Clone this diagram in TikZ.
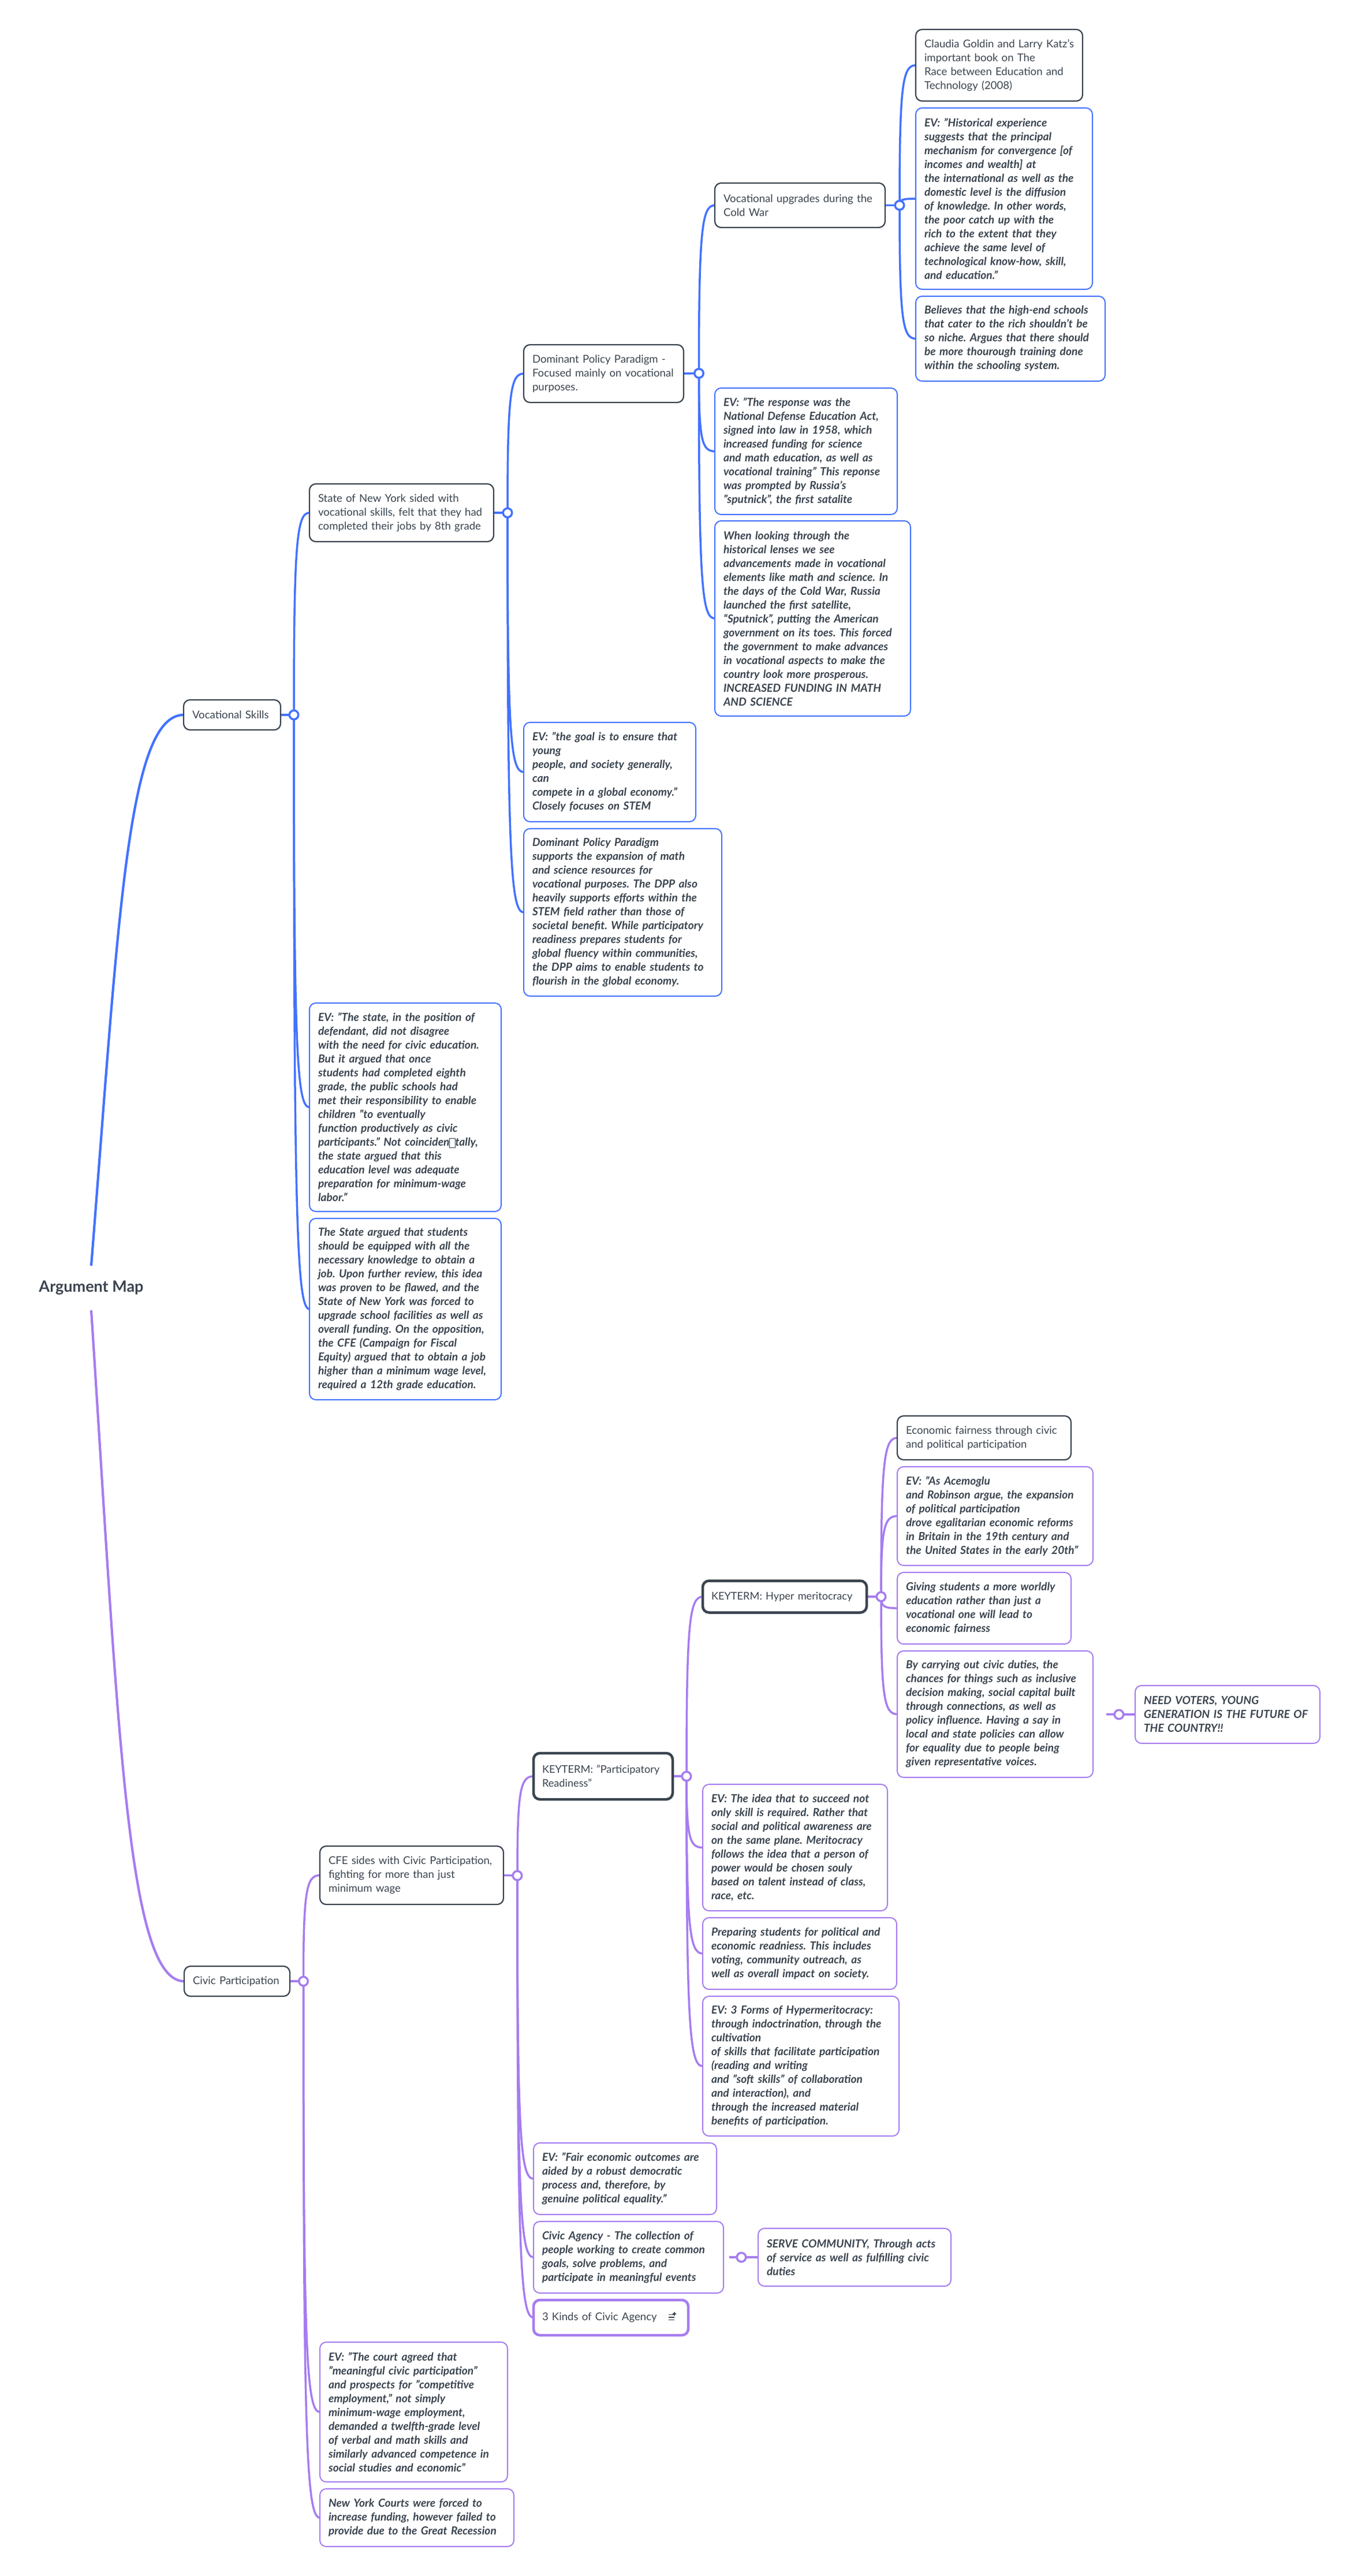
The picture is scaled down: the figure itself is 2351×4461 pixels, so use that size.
\documentclass[tikz,border=0pt]{standalone}
\usepackage{fontspec}
\setmainfont{Lato}
\usetikzlibrary{calc,backgrounds}

\definecolor{inkcol}{HTML}{3A444F}
\definecolor{bluecol}{HTML}{4372FF}
\definecolor{purplecol}{HTML}{A67CF0}
\newcommand{\tofuglyph}{{\setlength{\fboxsep}{0pt}\setlength{\fboxrule}{0.6pt}\raisebox{-2pt}{\fbox{\rule{0pt}{15pt}\rule{9pt}{0pt}}}}}

\tikzset{
	basebox/.style={anchor=north west,rectangle,rounded corners=11pt,fill=white,outer sep=0pt,inner xsep=15pt,inner ysep=0pt,align=left,text=inkcol,font=\fontsize{18.6pt}{24pt}\selectfont\frenchspacing},
	plainbox/.style={basebox,draw=inkcol,line width=2.2pt},
	keybox/.style={basebox,draw=inkcol,line width=4.5pt,font=\fontsize{18.2pt}{24pt}\selectfont\frenchspacing},
	bluenote/.style={basebox,draw=bluecol,line width=2pt,font=\fontsize{19.2pt}{24pt}\selectfont\bfseries\itshape\frenchspacing},
	purplenote/.style={basebox,draw=purplecol,line width=2pt,font=\fontsize{19.2pt}{24pt}\selectfont\bfseries\itshape\frenchspacing},
	hubdot/.style={circle,draw,fill=white,outer sep=0pt,line width=3.5pt,minimum size=15.5pt,inner sep=0pt},
	bluelink/.style={draw=bluecol,line width=3.5pt},
	purplelink/.style={draw=purplecol,line width=3.5pt},
	branch/.style={to path={let \p1=(\tikztostart),\p2=(\tikztotarget) in .. controls (\x1,{\y1+0.85*(\y2-\y1)}) and (\x1+5pt,\y2) .. (\tikztotarget)}}
}

\begin{document}
\begin{tikzpicture}[x=1pt,y=-1pt]
	\useasboundingbox (0,0) rectangle (2351,4461);

	\node[anchor=center,text=inkcol,font=\fontsize{27pt}{30pt}\selectfont\bfseries,minimum height=77pt] (rootMap) at (158,2230.5) {Argument Map};

	% Vocational side
	\node[plainbox,text width=138pt,minimum height=52pt] (vocSkills) at (318,1212) {Vocational Skills};
	\node[hubdot,draw=bluecol] (hubVoc) at (509,1238) {};
	\node[plainbox,text width=289pt,minimum height=100pt] (stateNY) at (536,838) {State of New York sided with\\vocational skills, felt that they had\\completed their jobs by 8th grade};
	\node[hubdot,draw=bluecol] (hubState) at (879,888) {};
	\node[plainbox,text width=247pt,minimum height=100pt] (dominant) at (907,597) {Dominant Policy Paradigm -\\Focused mainly on vocational\\purposes.};
	\node[hubdot,draw=bluecol] (hubDominant) at (1210.5,646.5) {};
	\node[plainbox,text width=265pt,minimum height=77pt] (coldWar) at (1238,317) {Vocational upgrades during the\\Cold War};
	\node[hubdot,draw=bluecol] (hubCold) at (1558,355.5) {};
	\node[plainbox,text width=259pt,minimum height=124pt] (goldin) at (1586,51) {\mbox{Claudia Goldin and Larry Katz’s}\\important book on The\\Race between Education and\\Technology (2008)};
	\node[bluenote,text width=276pt,minimum height=314pt] (histEV) at (1586,187) {EV: "Historical experience\\suggests that the principal\\mechanism for convergence [of\\incomes and wealth] at\\the international as well as the\\domestic level is the diffusion\\of knowledge. In other words,\\the poor catch up with the\\rich to the extent that they\\achieve the same level of\\technological know-how, skill,\\and education."};
	\node[bluenote,text width=298pt,minimum height=147pt] (highEnd) at (1586,513) {Believes that the high-end schools\\that cater to the rich shouldn't be\\so niche. Argues that there should\\be more thourough training done\\within the schooling system.};
	\node[bluenote,text width=286pt,minimum height=219pt] (responseEV) at (1238,672) {EV: "The response was the\\National Defense Education Act,\\signed into law in 1958, which\\increased funding for science\\and math education, as well as\\vocational training" This reponse\\was prompted by Russia's\\"sputnick", the first satalite};
	\node[bluenote,text width=309pt,minimum height=338pt] (lenses) at (1238,902) {When looking through the\\historical lenses we see\\advancements made in vocational\\elements like math and science. In\\the days of the Cold War, Russia\\launched the first satellite,\\“Sputnick”, putting the American\\government on its toes. This forced\\the government to make advances\\in vocational aspects to make the\\country look more prosperous.\\INCREASED FUNDING IN MATH\\AND SCIENCE};
	\node[bluenote,text width=268pt,minimum height=172pt] (goalEV) at (907,1251) {EV: "the goal is to ensure that\\young\\people, and society generally,\\can\\compete in a global economy."\\Closely focuses on STEM};
	\node[bluenote,text width=313pt,minimum height=290pt] (dppNote) at (907,1435) {Dominant Policy Paradigm\\supports the expansion of math\\and science resources for\\vocational purposes. The DPP also\\heavily supports efforts within the\\STEM field rather than those of\\societal benefit. While participatory\\readiness prepares students for\\global fluency within communities,\\the DPP aims to enable students to\\flourish in the global economy.};
	\node[bluenote,text width=302pt,minimum height=361pt] (stateEV) at (536,1737) {EV: "The state, in the position of\\defendant, did not disagree\\with the need for civic education.\\But it argued that once\\students had completed eighth\\grade, the public schools had\\met their responsibility to enable\\children "to eventually\\function productively as civic\\participants.” Not coinciden\tofuglyph{}tally,\\the state argued that this\\education level was adequate\\preparation for minimum-wage\\labor."};
	\node[bluenote,text width=302pt,minimum height=314pt] (stateArg) at (536,2110) {The State argued that students\\should be equipped with all the\\necessary knowledge to obtain a\\job. Upon further review, this idea\\was proven to be flawed, and the\\State of New York was forced to\\upgrade school facilities as well as\\overall funding. On the opposition,\\the CFE (Campaign for Fiscal\\Equity) argued that to obtain a job\\higher than a minimum wage level,\\required a 12th grade education.};

	% Civic side
	\node[plainbox,text width=153pt,minimum height=52pt] (civicPart) at (319,3405) {Civic Participation};
	\node[hubdot,draw=purplecol] (hubCivic) at (525.5,3431) {};
	\node[plainbox,text width=288pt,minimum height=101pt] (cfeSides) at (554,3197) {CFE sides with Civic Participation,\\fighting for more than just\\minimum wage};
	\node[hubdot,draw=purplecol] (hubCfe) at (896,3248) {};
	\node[keybox,text width=211pt,minimum height=80pt] (keyReady) at (924,3036) {KEYTERM: "Participatory\\Readiness"};
	\node[hubdot,draw=purplecol] (hubReady) at (1189,3076) {};
	\node[keybox,text width=254pt,minimum height=55pt] (keyHyper) at (1217,2737.5) {KEYTERM: Hyper meritocracy};
	\node[hubdot,draw=purplecol] (hubHyper) at (1526,2765) {};
	\node[plainbox,text width=271pt,minimum height=76pt] (fairness) at (1554,2452) {Economic fairness through civic\\and political participation};
	\node[purplenote,text width=309pt,minimum height=171pt] (acemogluEV) at (1554,2540) {EV: "As Acemoglu\\and Robinson argue, the expansion\\of political participation\\drove egalitarian economic reforms\\in Britain in the 19th century and\\the United States in the early 20th"};
	\node[purplenote,text width=271pt,minimum height=124pt] (worldly) at (1554,2723) {Giving students a more worldly\\education rather than just a\\vocational one will lead to\\economic fairness};
	\node[purplenote,text width=309pt,minimum height=219pt] (duties) at (1554,2859) {By carrying out civic duties, the\\chances for things such as inclusive\\decision making, social capital built\\through connections, as well as\\policy influence. Having a say in\\local and state policies can allow\\for equality due to people being\\given representative voices.};
	\node[hubdot,draw=purplecol] (hubVoters) at (1938,2969) {};
	\node[purplenote,text width=290pt,minimum height=100pt] (voters) at (1966,2919) {NEED VOTERS, YOUNG\\GENERATION IS THE FUTURE OF\\THE COUNTRY!!};
	\node[purplenote,text width=290pt,minimum height=219pt] (ideaEV) at (1217,3090) {EV: The idea that to succeed not\\only skill is required. Rather that\\social and political awareness are\\on the same plane. Meritocracy\\follows the idea that a person of\\power would be chosen souly\\based on talent instead of class,\\race, etc.};
	\node[purplenote,text width=306pt,minimum height=124pt] (preparing) at (1217,3321) {Preparing students for political and\\economic readniess. This includes\\voting, community outreach, as\\well as overall impact on society.};
	\node[purplenote,text width=310pt,minimum height=242pt] (formsEV) at (1217,3457) {EV: 3 Forms of Hypermeritocracy:\\through indoctrination, through the\\cultivation\\of skills that facilitate participation\\(reading and writing\\and "soft skills" of collaboration\\and interaction), and\\through the increased material\\benefits of participation.};
	\node[purplenote,text width=287pt,minimum height=124pt] (fairEV) at (924,3711) {EV: "Fair economic outcomes are\\aided by a robust democratic\\process and, therefore, by\\genuine political equality."};
	\node[purplenote,text width=299pt,minimum height=124pt] (agency) at (924,3847) {Civic Agency - The collection of\\people working to create common\\goals, solve problems, and\\participate in meaningful events};
	\node[hubdot,draw=purplecol] (hubAgency) at (1284,3909) {};
	\node[purplenote,text width=304pt,minimum height=100pt] (serve) at (1313,3859) {SERVE COMMUNITY, Through acts\\of service as well as fulfilling civic\\duties};
	\node[basebox,draw=purplecol,line width=4.5pt,text width=238pt,minimum height=61pt] (kinds) at (924,3983) {3 Kinds of Civic Agency};
	\node[purplenote,text width=295pt,minimum height=242pt] (courtEV) at (554,4056) {EV: "The court agreed that\\"meaningful civic participation”\\and prospects for "competitive\\employment," not simply\\minimum-wage employment,\\demanded a twelfth-grade level\\of verbal and math skills and\\similarly advanced competence in\\social studies and economic"};
	\node[purplenote,text width=306pt,minimum height=100pt] (courts) at (554,4310) {New York Courts were forced to\\increase funding, however failed to\\provide due to the Great Recession};

	\foreach \y in {-4.5,0,4.5} \draw[inkcol,line width=1.7pt] (1158,4013+\y) -- (1168,4013+\y); % Icon
	\draw[inkcol,line width=1.2pt] (1165,4007) -- (1171,4007) (1168,4004) -- (1168,4010);

	\begin{scope}[on background layer]
		\draw[bluelink,line width=4.2pt] (rootMap.north) .. controls (205,1600) and (220,1238) .. (vocSkills.west);
		\draw[purplelink,line width=4.2pt] (rootMap.south) .. controls (205,2990) and (220,3431) .. (civicPart.west);
		\foreach \Parent/\Hub in {vocSkills/hubVoc,stateNY/hubState,dominant/hubDominant,coldWar/hubCold}
		\draw[bluelink] (\Parent.east) -- (\Hub.center);
		\foreach \Hub/\Child in {hubVoc/stateNY,hubVoc/stateEV,hubVoc/stateArg,hubState/dominant,hubState/goalEV,hubState/dppNote,hubDominant/coldWar,hubDominant/responseEV,hubDominant/lenses,hubCold/goldin,hubCold/histEV,hubCold/highEnd}
		\draw[bluelink] (\Hub.center) to[branch] (\Child.west);
		\foreach \Parent/\Hub in {civicPart/hubCivic,cfeSides/hubCfe,keyReady/hubReady,keyHyper/hubHyper}
		\draw[purplelink] (\Parent.east) -- (\Hub.center);
		\foreach \Hub/\Child in {hubCivic/cfeSides,hubCivic/courtEV,hubCivic/courts,hubCfe/keyReady,hubCfe/fairEV,hubCfe/agency,hubCfe/kinds,hubReady/keyHyper,hubReady/ideaEV,hubReady/preparing,hubReady/formsEV,hubHyper/fairness,hubHyper/acemogluEV,hubHyper/worldly,hubHyper/duties}
		\draw[purplelink] (\Hub.center) to[branch] (\Child.west);
		\draw[purplelink,shorten <=23pt] (duties.east) -- (hubVoters.center);
		\draw[purplelink] (hubVoters.center) -- (voters.west);
		\draw[purplelink,shorten <=10pt] (agency.east) -- (hubAgency.center);
		\draw[purplelink] (hubAgency.center) -- (serve.west);
	\end{scope}
\end{tikzpicture}
\end{document}
